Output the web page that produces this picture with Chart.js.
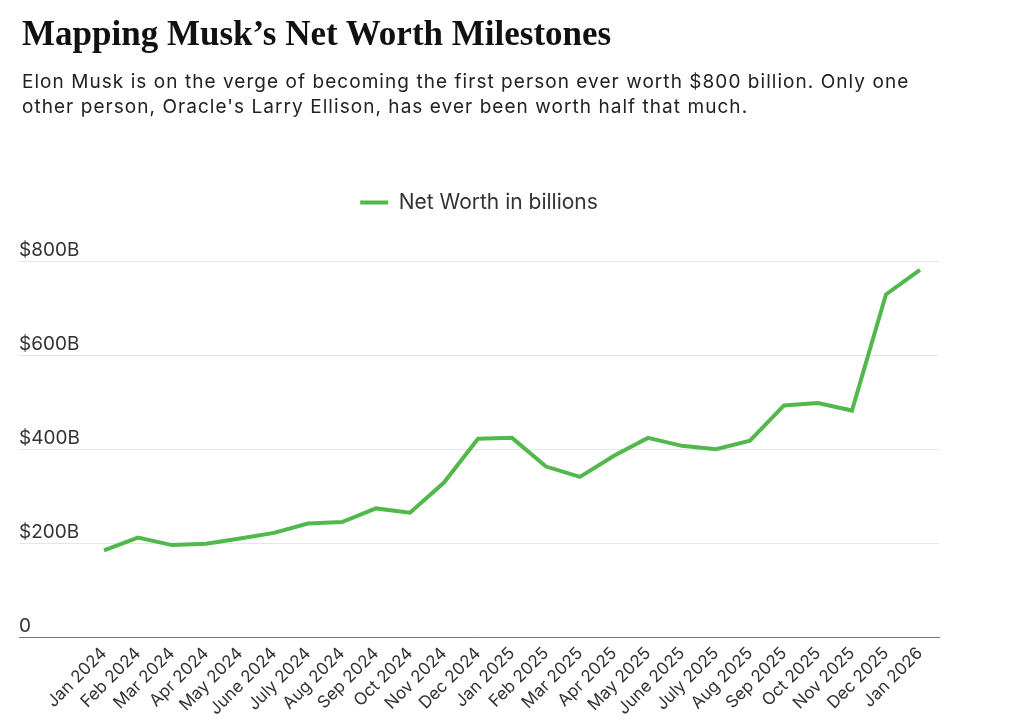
<!DOCTYPE html>
<html>
<head>
<meta charset="utf-8">
<script src="https://cdn.jsdelivr.net/npm/chart.js@4"></script>
<style>
  html, body { margin: 0; padding: 0; background: #fff; }
  body { width: 1024px; height: 728px; position: relative; overflow: hidden; }
  #title { position: absolute; left: 22px; top: 14px; font-family: "Liberation Serif", serif; font-weight: bold; font-size: 35px; color: #111; letter-spacing: 0px; white-space: nowrap; }
  #sub { position: absolute; left: 22px; top: 69px; font-family: "Inter", sans-serif; font-size: 19px; letter-spacing: 1.05px; line-height: 25px; color: #222; width: 1000px; white-space: nowrap; }
  #wrap { position: absolute; left: 0; top: 0; width: 1024px; height: 728px; }
</style>
</head>
<body>
<div id="wrap"><canvas id="c"></canvas></div>
<div id="title">Mapping Musk’s Net Worth Milestones</div>
<div id="sub">Elon Musk is on the verge of becoming the first person ever worth $800 billion. Only one<br>other person, Oracle's Larry Ellison, has ever been worth half that much.</div>
<script>
const months = ["Jan 2024","Feb 2024","Mar 2024","Apr 2024","May 2024","June 2024","July 2024","Aug 2024","Sep 2024","Oct 2024","Nov 2024","Dec 2024","Jan 2025","Feb 2025","Mar 2025","Apr 2025","May 2025","June 2025","July 2025","Aug 2025","Sep 2025","Oct 2025","Nov 2025","Dec 2025","Jan 2026"];
const netWorth = [185,212,196,199,210,222,242,245,274,265,329,422,424,363,341,386,424,407,400,418,493,498,482,729,781];
const yTicks = [0,200,400,600,800];
const yTickLabels = ["0","$200B","$400B","$600B","$800B"];
const seriesName = "Net Worth in billions";

const green = "#52b84b";
const font = "Inter, 'Noto Sans', sans-serif";

const legendGap = {
  id: "legendGap",
  beforeInit(chart) {
    const orig = chart.legend.fit;
    chart.legend.fit = function () { orig.call(this); this.height += 38; };
  }
};

new Chart(document.getElementById("c"), {
  type: "line",
  data: {
    datasets: [{
      label: seriesName,
      data: netWorth.map((v, i) => ({x: i, y: v})),
      borderColor: green,
      backgroundColor: green,
      borderWidth: 4,
      pointRadius: 0,
      tension: 0,
      fill: false
    }]
  },
  plugins: [legendGap],
  options: {
    responsive: true,
    maintainAspectRatio: false,
    animation: false,
    layout: { padding: { left: 19, right: 85, top: 182, bottom: 3 } },
    plugins: {
      tooltip: { enabled: false },
      legend: {
        position: "top",
        align: "center",
        labels: {
          boxWidth: 28,
          boxHeight: 4,
          color: "#333",
          font: { family: font, size: 21 },
          padding: 10,
          generateLabels: (chart) => Chart.defaults.plugins.legend.labels.generateLabels(chart).map(l => ({...l, lineWidth: 0}))
        }
      }
    },
    scales: {
      x: {
        type: "linear",
        min: -2.5,
        max: 24.56,
        grid: { display: false, drawTicks: false },
        border: { display: true, color: "#777", width: 1 },
        afterBuildTicks: (scale) => { scale.ticks = months.map((_, i) => ({value: i})); },
        ticks: {
          autoSkip: false,
          minRotation: 45,
          maxRotation: 45,
          padding: 6,
          color: "#333",
          font: { family: font, size: 17 },
          callback: (v) => months[v]
        }
      },
      y: {
        min: 0,
        max: 800,
        afterBuildTicks: (scale) => { scale.ticks = yTicks.map(v => ({value: v})); },
        grid: { color: (ctx) => ctx.tick && ctx.tick.value === 0 ? "rgba(0,0,0,0)" : "#e6e6e6", drawTicks: false, lineWidth: 1 },
        border: { display: false },
        ticks: {
          mirror: true,
          padding: 0,
          labelOffset: -11,
          color: "#333",
          font: { family: font, size: 19 },
          callback: (v) => yTickLabels[yTicks.indexOf(v)]
        }
      }
    }
  }
});
</script>
</body>
</html>
